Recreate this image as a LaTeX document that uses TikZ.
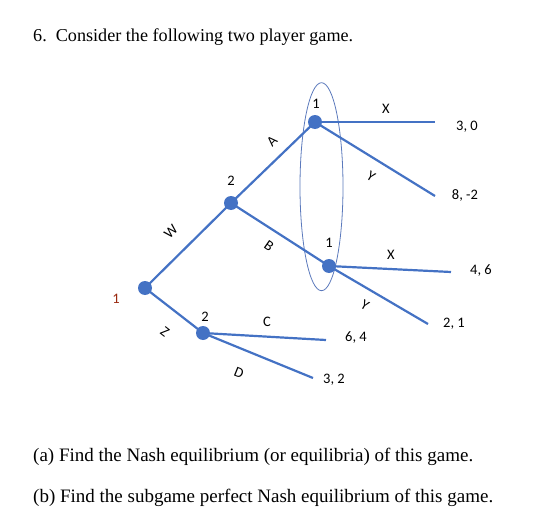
\documentclass[tikz,border=0pt]{standalone}
\usepackage{fontspec}
\setmainfont{Liberation Serif}
\newfontfamily\lblfont{Carlito}
\definecolor{obl}{HTML}{4472C4}
\definecolor{ell}{HTML}{5B79BC}
\definecolor{rootred}{HTML}{9A2A10}
\begin{document}
\begin{tikzpicture}[x=1pt,y=-1pt,
  branch/.style={draw=obl,line width=2.2pt},
  dnode/.style={circle,fill=obl,inner sep=0pt,minimum size=14pt},
  lbl/.style={font=\lblfont\fontsize{14.5}{16}\selectfont,inner sep=0pt},
  body/.style={anchor=west,inner sep=0pt}]
\useasboundingbox (0,0) rectangle (547,522);
% title and questions
\node[body] (title) at (33,37) {\resizebox{320pt}{!}{6.\ \ Consider the following two player game.}};
\node[body] (qa) at (33,457) {\resizebox{440pt}{!}{(a) Find the Nash equilibrium (or equilibria) of this game.}};
\node[body] (qb) at (33,498) {\resizebox{460pt}{!}{(b) Find the subgame perfect Nash equilibrium of this game.}};
% information set
\draw[ell,line width=0.8pt] (321.5,186.7) ellipse [x radius=21.5, y radius=104];
% decision nodes
\coordinate (r) at (145,288);
\coordinate (n2a) at (231,203);
\coordinate (n1a) at (315,122);
\coordinate (n1b) at (329,266);
\coordinate (n2b) at (203,333);
% terminal ends
\coordinate (t1) at (435,122);
\coordinate (t2) at (435,196);
\coordinate (t3) at (451,272);
\coordinate (t4) at (428,324);
\coordinate (t5) at (326,340);
\coordinate (t6) at (313,378);
\draw[branch] (r) -- (n2a);
\draw[branch] (r) -- (n2b);
\draw[branch] (n2a) -- (n1a);
\draw[branch] (n2a) -- (n1b);
\draw[branch] (n1a) -- (t1);
\draw[branch] (n1a) -- (t2);
\draw[branch] (n1b) -- (t3);
\draw[branch] (n1b) -- (t4);
\draw[branch] (n2b) -- (t5);
\draw[branch] (n2b) -- (t6);
\foreach \n in {r,n2a,n1a,n1b,n2b} \node[dnode] (d\n) at (\n) {};
% player labels
\node[lbl,text=rootred] (p1r) at (116,299) {1};
\node[lbl] (p2a) at (231,181) {2};
\node[lbl] (p1a) at (316,104) {1};
\node[lbl] (p1b) at (329,243) {1};
\node[lbl] (p2b) at (205,317) {2};
% action labels
\node[lbl,rotate=45] (lW) at (171,232) {W};
\node[lbl,rotate=-38] (lZ) at (165,332) {Z};
\node[lbl,rotate=45] (lA) at (272,141) {A};
\node[lbl,rotate=-35] (lB) at (269,246) {B};
\node[lbl] (lX1) at (386,109) {X};
\node[lbl,rotate=-32] (lY1) at (371,176) {Y};
\node[lbl] (lX2) at (391,255) {X};
\node[lbl,rotate=-30] (lY2) at (365,305) {Y};
\node[lbl] (lC) at (267,322) {C};
\node[lbl,rotate=-22] (lD) at (239,373) {D};
% payoffs
\node[lbl] (o1) at (467,127) {3, 0};
\node[lbl] (o2) at (465,195) {8, -2};
\node[lbl] (o3) at (481,271) {4, 6};
\node[lbl] (o4) at (454,324) {2, 1};
\node[lbl] (o5) at (356,338) {6, 4};
\node[lbl] (o6) at (334,380) {3, 2};
\end{tikzpicture}
\end{document}
